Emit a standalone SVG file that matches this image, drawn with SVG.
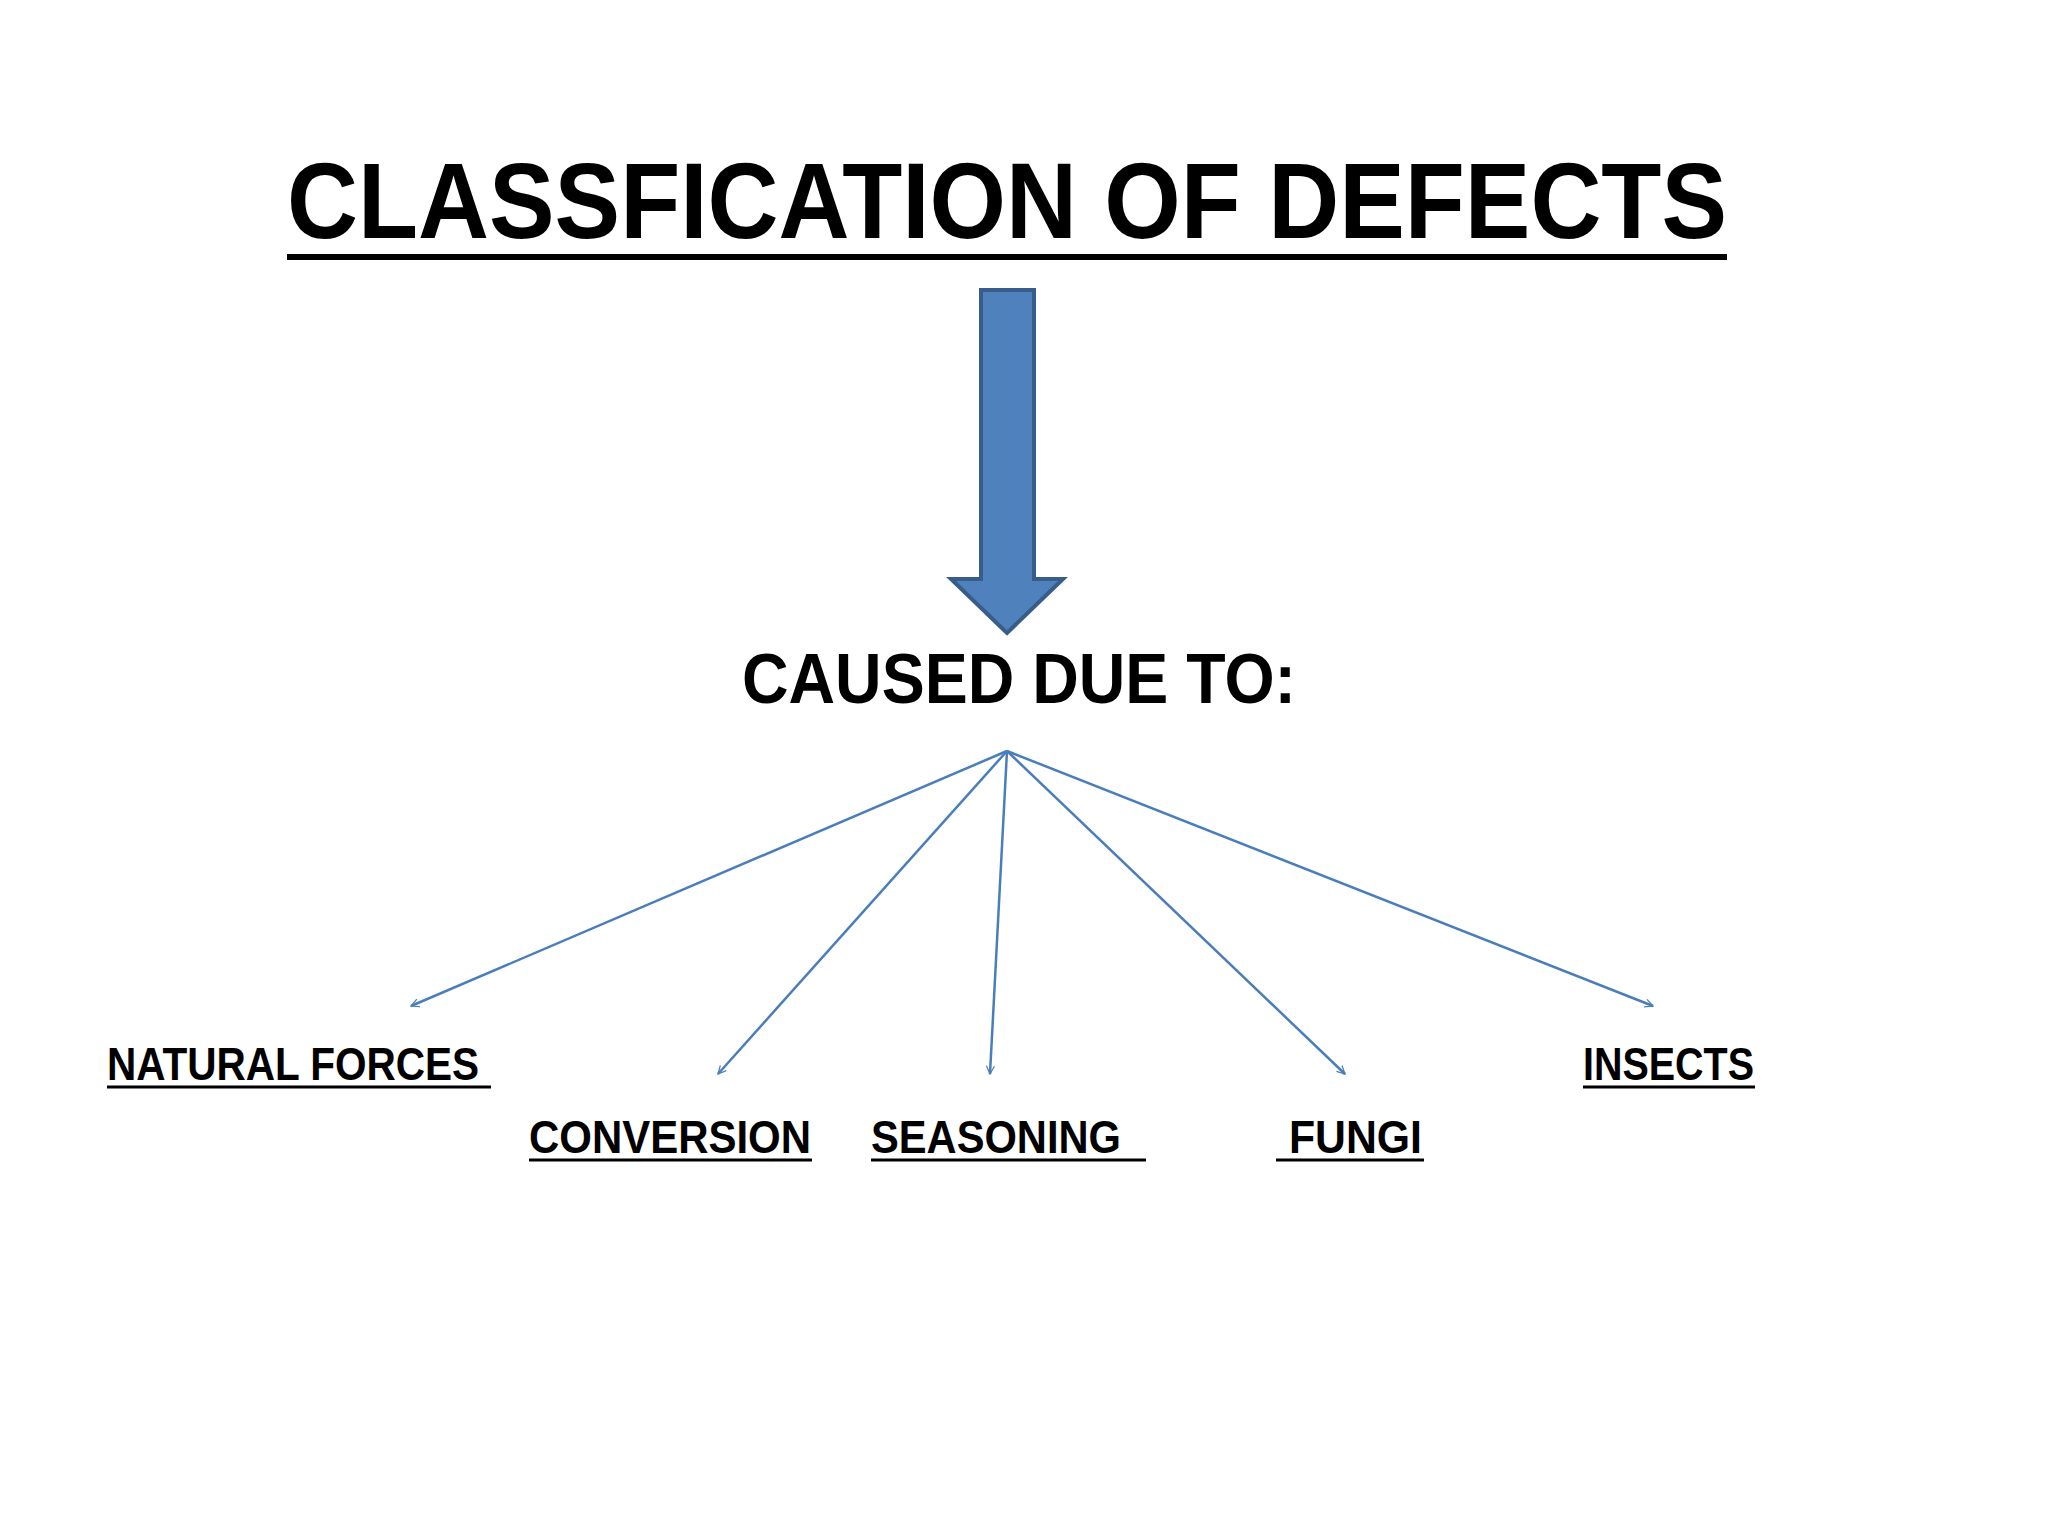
<svg xmlns="http://www.w3.org/2000/svg" width="2048" height="1536" viewBox="0 0 2048 1536">
<defs>
<style>
text{font-family:"Liberation Sans",Arial,sans-serif;font-weight:bold;fill:#000}
.lbl{font-size:46px}
.ul{stroke:#000;stroke-width:3}
.c{stroke:#4a7ebb;stroke-width:2.5;fill:none;marker-end:url(#ah)}
</style>
<marker id="ah" viewBox="0 0 20 20" refX="18" refY="10" markerWidth="10" markerHeight="10" markerUnits="userSpaceOnUse" orient="auto"><path d="M2,2 L18,10 L2,18" fill="none" stroke="#4a7ebb" stroke-width="2.5"/></marker>
</defs>
<rect width="2048" height="1536" fill="#fff"/>
<g id="title">
<text x="287" y="238" font-size="108" textLength="1440" lengthAdjust="spacingAndGlyphs">CLASSFICATION OF DEFECTS</text>
<line x1="287" y1="257" x2="1727" y2="257" stroke="#000" stroke-width="6"/>
</g>
<g id="bigarrow">
<path d="M981,290 H1034 V579 H1063 L1007,633 L951,579 H981 Z" fill="#4f81bd" stroke="#385d8a" stroke-width="4"/>
</g>
<g id="caused">
<text x="742" y="703" font-size="70" textLength="554" lengthAdjust="spacingAndGlyphs">CAUSED DUE TO:</text>
</g>
<g id="connectors">
<line class="c" x1="1007" y1="751" x2="411" y2="1006"/>
<line class="c" x1="1007" y1="751" x2="718" y2="1074"/>
<line class="c" x1="1007" y1="751" x2="990" y2="1074"/>
<line class="c" x1="1007" y1="751" x2="1345" y2="1074"/>
<line class="c" x1="1007" y1="751" x2="1653" y2="1006"/>
</g>
<g id="natural"><text class="lbl" x="107" y="1080" textLength="372" lengthAdjust="spacingAndGlyphs">NATURAL FORCES</text><line class="ul" x1="107" y1="1087" x2="491" y2="1087"/></g>
<g id="conversion"><text class="lbl" x="529" y="1153" textLength="282" lengthAdjust="spacingAndGlyphs">CONVERSION</text><line class="ul" x1="529" y1="1160" x2="812" y2="1160"/></g>
<g id="seasoning"><text class="lbl" x="871" y="1153" textLength="250" lengthAdjust="spacingAndGlyphs">SEASONING</text><line class="ul" x1="871" y1="1160" x2="1146" y2="1160"/></g>
<g id="fungi"><text class="lbl" x="1289" y="1153" textLength="133" lengthAdjust="spacingAndGlyphs">FUNGI</text><line class="ul" x1="1276" y1="1160" x2="1424" y2="1160"/></g>
<g id="insects"><text class="lbl" x="1583" y="1080" textLength="171" lengthAdjust="spacingAndGlyphs">INSECTS</text><line class="ul" x1="1583" y1="1087" x2="1755" y2="1087"/></g>
</svg>
